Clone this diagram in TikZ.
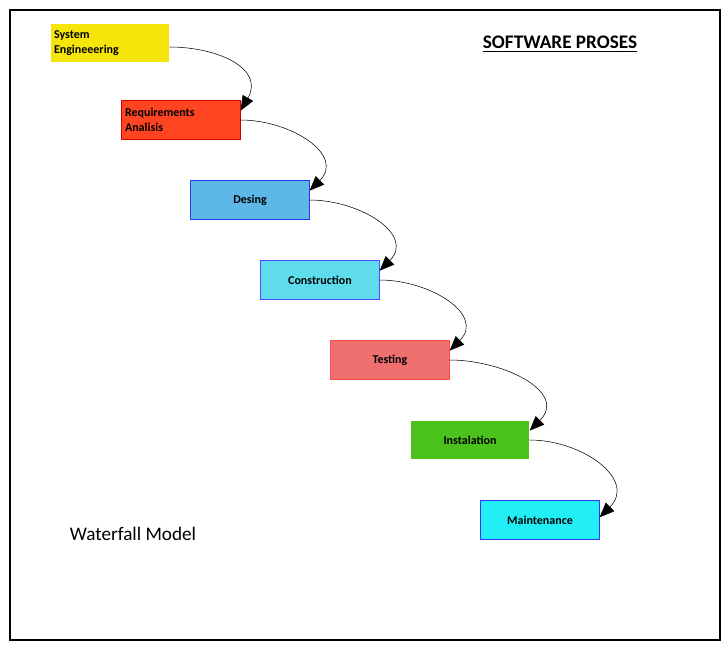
\documentclass[tikz,border=0pt]{standalone}
\usepackage{fontspec}
\setmainfont{Carlito}
\usetikzlibrary{arrows.meta}
\definecolor{cyell}{HTML}{F5E50A}
\definecolor{cred}{HTML}{FF4422}
\definecolor{cblue}{HTML}{5DB8E8}
\definecolor{ccons}{HTML}{5EDCEB}
\definecolor{ctest}{HTML}{F07070}
\definecolor{cgreen}{HTML}{4CC21C}
\definecolor{cmain}{HTML}{22EEF5}
\tikzset{
  phase/.style={minimum width=89pt, minimum height=29pt, inner sep=2pt,
    font=\bfseries\small, align=center},
  flow/.style={-{Triangle[width=9pt,length=11pt]}, black}
}
\begin{document}
\begin{tikzpicture}[x=0.75pt,y=-0.75pt]
    \useasboundingbox (0,0) rectangle (728,650);
    \draw[thick] (10,10) rectangle (720,640);
    % phases of the model
    \node[phase, fill=cyell, align=left, text width=84pt] (sys) at (110,43) {System\\Engineeering};
    \node[phase, fill=cred, draw=red!80!black, align=left, text width=84pt] (req) at (181,120) {Requirements\\Analisis};
    \node[phase, fill=cblue, draw=blue!80] (des) at (250,200) {Desing};
    \node[phase, fill=ccons, draw=blue!70] (con) at (320,280) {Construction};
    \node[phase, fill=ctest, draw=red!70] (tes) at (390,360) {Testing};
    \node[phase, fill=cgreen] (ins) at (470,440) {Instalation};
    \node[phase, fill=cmain, draw=blue!80] (mai) at (540,520) {Maintenance};
    %
    \draw[flow] ([yshift=-3pt]sys.east) to[out=0,in=60,looseness=1.3] ([yshift=7pt]req.east);
    \draw[flow] (req.east) to[out=0,in=45,looseness=1.3] ([yshift=7pt]des.east);
    \draw[flow] (des.east) to[out=0,in=45,looseness=1.3] ([yshift=7pt]con.east);
    \draw[flow] (con.east) to[out=0,in=45,looseness=1.3] ([yshift=7pt]tes.east);
    \draw[flow] (tes.east) to[out=0,in=45,looseness=1.3] ([yshift=7pt]ins.east);
    \draw[flow] (ins.east) to[out=0,in=45,looseness=1.3] ([yshift=2pt]mai.east);
    %
    \node[font=\bfseries\Large] (title) at (560,44) {\underline{SOFTWARE PROSES}};
    \node[font=\Large] (model) at (133,534) {Waterfall Model};
\end{tikzpicture}
\end{document}
